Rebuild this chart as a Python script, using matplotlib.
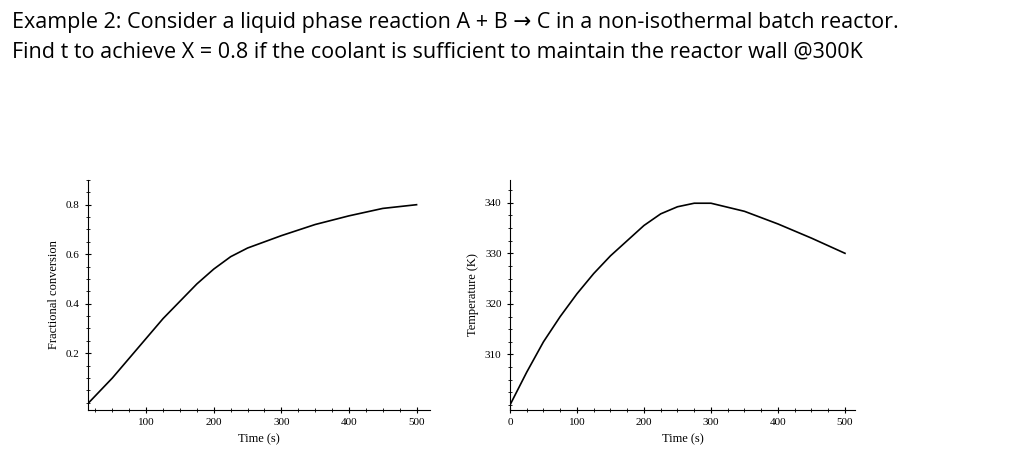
import matplotlib.pyplot as plt
import numpy as np
from matplotlib.ticker import AutoMinorLocator

t_x = [15, 50, 75, 100, 125, 150, 175, 200, 225, 250, 275, 300, 350, 400, 450, 500]
conv = [0.0, 0.10, 0.18, 0.26, 0.34, 0.41, 0.48, 0.54, 0.59, 0.625, 0.65, 0.675, 0.72, 0.755, 0.785, 0.80]
t_T = [0, 25, 50, 75, 100, 125, 150, 175, 200, 225, 250, 275, 300, 350, 400, 450, 500]
temp = [300, 306.5, 312.5, 317.5, 322, 326, 329.5, 332.5, 335.5, 337.8, 339.2, 339.9, 339.9, 338.3, 335.8, 333, 330]

fig = plt.figure(figsize=(10.24, 4.65), dpi=100)
fam = ["Open Sans", "DejaVu Sans"]
fig.text(0.012, 0.975, "Example 2: Consider a liquid phase reaction A + B \u2192 C in a non-isothermal batch reactor.",
         fontsize=15.5, family=fam, va="top")
fig.text(0.012, 0.91, "Find t to achieve X = 0.8 if the coolant is sufficient to maintain the reactor wall @300K",
         fontsize=15.5, family=fam, va="top")

def style(ax):
    for s in ["top", "right"]:
        ax.spines[s].set_visible(False)
    ax.xaxis.set_minor_locator(AutoMinorLocator(4))
    ax.yaxis.set_minor_locator(AutoMinorLocator(4))
    ax.tick_params(direction="inout", labelsize=8, length=5)
    ax.tick_params(which="minor", direction="inout", length=3)
    for lb in ax.get_xticklabels() + ax.get_yticklabels():
        lb.set_family("Liberation Serif")

ax1 = fig.add_axes([0.086, 0.118, 0.334, 0.495])
ax1.plot(t_x, conv, color="black", lw=1.2)
ax1.set_xlim(14, 520)
ax1.set_ylim(-0.03, 0.9)
ax1.set_xticks([100, 200, 300, 400, 500])
ax1.set_yticks([0.2, 0.4, 0.6, 0.8])
ax1.set_xlabel("Time (s)", family="Liberation Serif", fontsize=9)
ax1.set_ylabel("Fractional conversion", family="Liberation Serif", fontsize=9)
style(ax1)

ax2 = fig.add_axes([0.498, 0.118, 0.337, 0.495])
ax2.plot(t_T, temp, color="black", lw=1.2)
ax2.set_xlim(0, 515)
ax2.set_ylim(299, 344.5)
ax2.set_xticks([0, 100, 200, 300, 400, 500])
ax2.set_yticks([310, 320, 330, 340])
ax2.set_xlabel("Time (s)", family="Liberation Serif", fontsize=9)
ax2.set_ylabel("Temperature (K)", family="Liberation Serif", fontsize=9)
style(ax2)

fig.savefig("out.png", dpi=100)
